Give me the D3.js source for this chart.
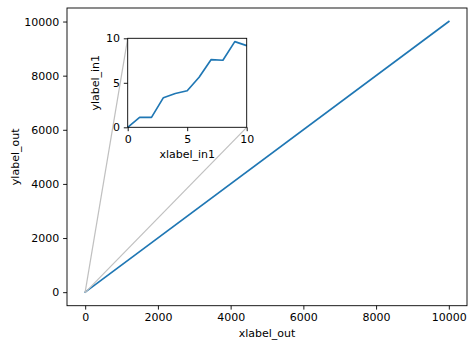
<!DOCTYPE html>
<html>
<head>
<meta charset="utf-8">
<script src="https://cdn.jsdelivr.net/npm/d3@7"></script>
<style>
  html, body { margin: 0; padding: 0; background: #fff; }
  svg { display: block; font-family: "DejaVu Sans", sans-serif; }
  .axis text { font-size: 11px; fill: #000; }
  .axis path, .axis line { stroke: #000; stroke-width: 0.9; }
</style>
</head>
<body>
<svg id="chart" width="474" height="348"></svg>
<script>
// Outer series: straight line from the origin to (10000, 10000)
const outerX = [0, 10000];
const outerY = [0, 10000];
const outerTicks = [0, 2000, 4000, 6000, 8000, 10000];

// Inset series: zoomed-in view of the region 0..10
const innerX = [0, 1, 2, 3, 4, 5, 6, 7, 8, 9, 10];
const innerY = [0, 1.12, 1.12, 3.33, 3.8, 4.1, 5.62, 7.6, 7.53, 9.63, 9.18];
const innerTicks = [0, 5, 10];

const svg = d3.select("#chart");
const blue = "#1f77b4";
const tick = 3.9, pad = 3.9;

// Outer axes box
const outer = { left: 67, right: 467, top: 8, bottom: 305.7 };
const xo = d3.scaleLinear().domain([-500, 10500]).range([outer.left, outer.right]);
const yo = d3.scaleLinear().domain([-500, 10500]).range([outer.bottom, outer.top]);

// Inset axes box
const inset = { left: 127.7, right: 246.7, top: 38.3, bottom: 127.3 };
const xi = d3.scaleLinear().domain([0, 10]).range([inset.left, inset.right]);
const yi = d3.scaleLinear().domain([0, 10]).range([inset.bottom, inset.top]);

// Outer line
svg.append("path")
  .datum(outerX.map((x, i) => [x, outerY[i]]))
  .attr("fill", "none").attr("stroke", blue).attr("stroke-width", 1.67)
  .attr("stroke-linecap", "square")
  .attr("d", d3.line().x(d => xo(d[0])).y(d => yo(d[1])));

// Zoom indicator: small rectangle around the inset region and connectors
const zx0 = xo(innerX[0]), zx1 = xo(innerX[innerX.length - 1]);
const zy0 = yo(0), zy1 = yo(10);
const grey = "#c0c0c0";
svg.append("rect")
  .attr("x", zx0).attr("y", zy1).attr("width", zx1 - zx0).attr("height", zy0 - zy1)
  .attr("fill", "none").attr("stroke", grey).attr("stroke-width", 1.2);
svg.append("line")
  .attr("x1", zx0).attr("y1", zy1).attr("x2", inset.left).attr("y2", inset.top)
  .attr("stroke", grey).attr("stroke-width", 1.2);
svg.append("line")
  .attr("x1", zx1).attr("y1", zy0).attr("x2", inset.right).attr("y2", inset.bottom)
  .attr("stroke", grey).attr("stroke-width", 1.2);

// Outer axes
function styleAxis(g) {
  g.attr("class", "axis");
  g.select(".domain").remove();
  g.selectAll(".tick line").attr("stroke", "#000").attr("stroke-width", 0.9);
  g.selectAll(".tick text").attr("font-family", "DejaVu Sans").attr("font-size", 11);
}
svg.append("g").attr("transform", `translate(0,${outer.bottom})`)
  .call(d3.axisBottom(xo).tickValues(outerTicks).tickSize(tick).tickPadding(pad).tickFormat(d3.format("d")))
  .call(styleAxis);
svg.append("g").attr("transform", `translate(${outer.left},0)`)
  .call(d3.axisLeft(yo).tickValues(outerTicks).tickSize(tick).tickPadding(pad).tickFormat(d3.format("d")))
  .call(styleAxis);
svg.append("rect")
  .attr("x", outer.left).attr("y", outer.top)
  .attr("width", outer.right - outer.left).attr("height", outer.bottom - outer.top)
  .attr("fill", "none").attr("stroke", "#000").attr("stroke-width", 0.9);

svg.append("text").attr("x", (outer.left + outer.right) / 2).attr("y", 337)
  .attr("text-anchor", "middle").attr("font-size", 11).text("xlabel_out");
svg.append("text").attr("transform", `translate(19,${(outer.top + outer.bottom) / 2}) rotate(-90)`)
  .attr("text-anchor", "middle").attr("font-size", 11).text("ylabel_out");

// Inset axes
svg.append("rect")
  .attr("x", inset.left).attr("y", inset.top)
  .attr("width", inset.right - inset.left).attr("height", inset.bottom - inset.top)
  .attr("fill", "#fff");
svg.append("path")
  .datum(innerX.map((x, i) => [x, innerY[i]]))
  .attr("fill", "none").attr("stroke", blue).attr("stroke-width", 1.67)
  .attr("stroke-linejoin", "round")
  .attr("d", d3.line().x(d => xi(d[0])).y(d => yi(d[1])));
svg.append("g").attr("transform", `translate(0,${inset.bottom})`)
  .call(d3.axisBottom(xi).tickValues(innerTicks).tickSize(tick).tickPadding(pad))
  .call(styleAxis);
svg.append("g").attr("transform", `translate(${inset.left},0)`)
  .call(d3.axisLeft(yi).tickValues(innerTicks).tickSize(tick).tickPadding(pad))
  .call(styleAxis);
svg.append("rect")
  .attr("x", inset.left).attr("y", inset.top)
  .attr("width", inset.right - inset.left).attr("height", inset.bottom - inset.top)
  .attr("fill", "none").attr("stroke", "#000").attr("stroke-width", 0.9);

svg.append("text").attr("x", (inset.left + inset.right) / 2).attr("y", 158)
  .attr("text-anchor", "middle").attr("font-size", 11).text("xlabel_in1");
svg.append("text").attr("transform", `translate(99,${(inset.top + inset.bottom) / 2}) rotate(-90)`)
  .attr("text-anchor", "middle").attr("font-size", 11).text("ylabel_in1");
</script>
</body>
</html>
